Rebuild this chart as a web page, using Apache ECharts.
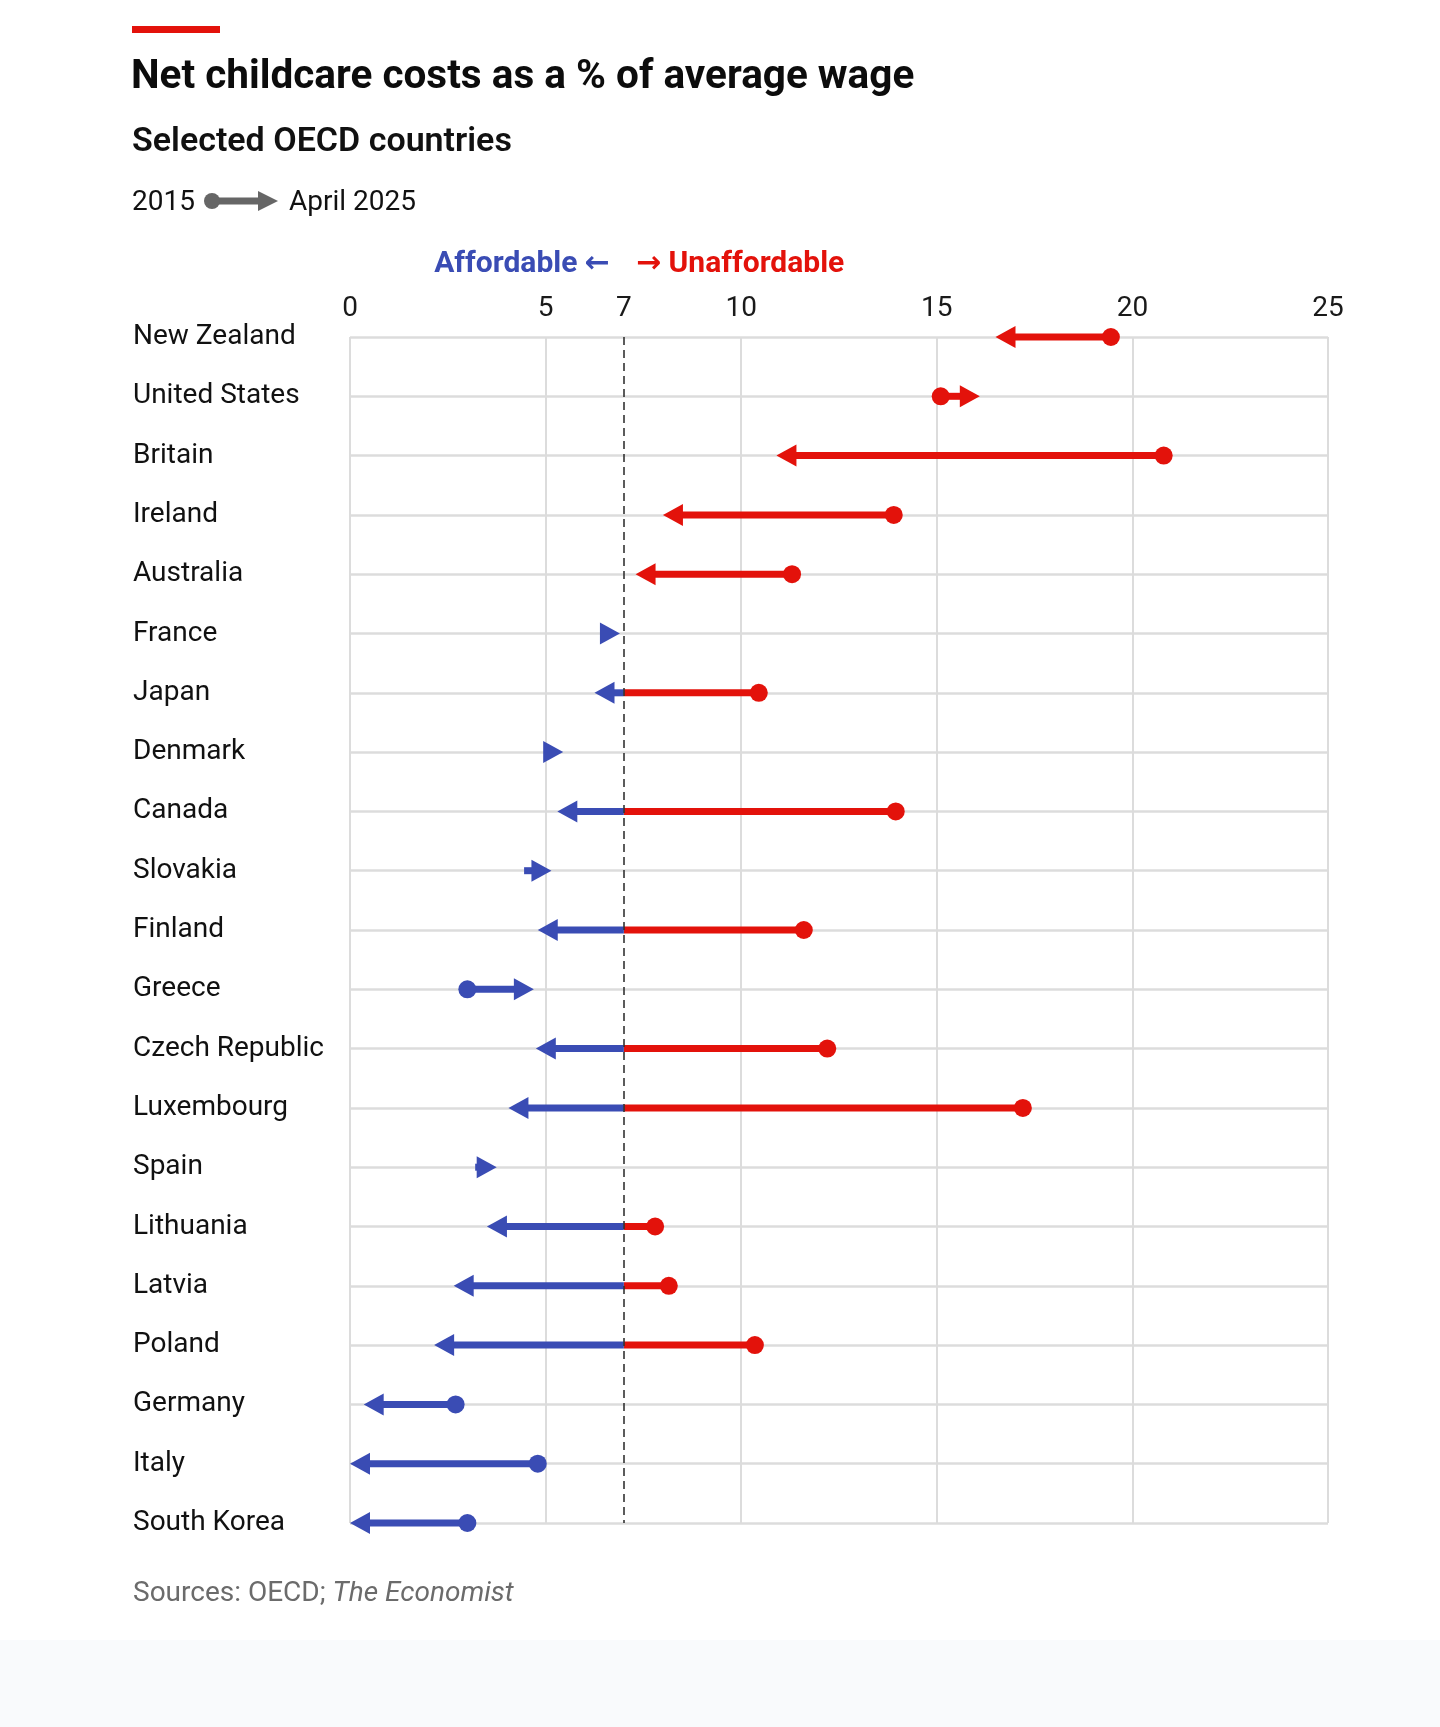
<!DOCTYPE html>
<html>
<head>
<meta charset="utf-8">
<title>Net childcare costs as a % of average wage</title>
<script src="https://cdn.jsdelivr.net/npm/echarts@6/dist/echarts.min.js"></script>
<style>
  html, body { margin: 0; padding: 0; background: #fff; }
  #chart { width: 1440px; height: 1727px; }
</style>
</head>
<body>
<div id="chart"></div>
<script>
// data (% of average wage)
const countries = [
  'New Zealand', 'United States', 'Britain', 'Ireland', 'Australia', 'France',
  'Japan', 'Denmark', 'Canada', 'Slovakia', 'Finland', 'Greece', 'Czech Republic',
  'Luxembourg', 'Spain', 'Lithuania', 'Latvia', 'Poland', 'Germany', 'Italy', 'South Korea'
];
const cost2015 = [19.45, 15.1, 20.8, 13.9, 11.3, 6.5, 10.45, 5.0, 13.95, 4.45, 11.6, 3.0, 12.2, 17.2, 3.2, 7.8, 8.15, 10.35, 2.7, 4.8, 3.0];
const cost2025 = [16.5, 16.1, 10.9, 8.0, 7.3, 6.9, 6.25, 5.45, 5.3, 5.15, 4.8, 4.7, 4.75, 4.05, 3.75, 3.5, 2.65, 2.15, 0.35, 0.0, 0.0];
const xTicks = [0, 5, 7, 10, 15, 20, 25];
const threshold = 7;

const RED = '#e3120b';
const BLUE = '#3a4cb4';
const FONT = 'Roboto';
const HEAD_LEN = 20;
const HEAD_HALF = 11;
const LINE_W = 7;
const DOT_R = 9;

const colorFor = v => (v > threshold ? RED : BLUE);

const rows = countries.map((c, i) => [i, cost2015[i], cost2025[i]]);

function renderArrow(params, api) {
  const i = api.value(0);
  const v15 = api.value(1);
  const v25 = api.value(2);
  const a = api.coord([v15, i]);
  const b = api.coord([v25, i]);
  const m = api.coord([threshold, i]);
  const dir = b[0] >= a[0] ? 1 : -1;
  const dist = Math.abs(b[0] - a[0]);
  const baseX = b[0] - dir * HEAD_LEN;
  const y = a[1];
  const children = [];

  const seg = (x1, x2, color) => children.push({
    type: 'line',
    shape: { x1: x1, y1: y, x2: x2, y2: y },
    style: { stroke: color, lineWidth: LINE_W }
  });

  if (dist > HEAD_LEN) {
    const lineEnd = baseX + dir * 2;
    const crosses = (v15 - threshold) * (v25 - threshold) < 0;
    if (crosses) {
      seg(a[0], m[0], colorFor(v15));
      seg(m[0], lineEnd, colorFor(v25));
    } else {
      seg(a[0], lineEnd, colorFor(v25));
    }
  }
  // tiny changes: the 2015 dot disappears under the arrowhead
  if (dist >= 32) {
    children.push({
      type: 'circle',
      shape: { cx: a[0], cy: y, r: DOT_R },
      style: { fill: colorFor(v15) }
    });
  }
  children.push({
    type: 'polygon',
    shape: { points: [[b[0], y], [baseX, y - HEAD_HALF], [baseX, y + HEAD_HALF]] },
    style: { fill: colorFor(v25) }
  });
  return { type: 'group', children: children };
}

const chart = echarts.init(document.getElementById('chart'), null, { renderer: 'canvas' });

const txt = (x, y, style) => ({
  type: 'text', x: x, y: y,
  style: Object.assign({ verticalAlign: 'middle', align: 'left' }, style)
});

const option = {
  backgroundColor: '#ffffff',
  animation: false,
  textStyle: { fontFamily: FONT },
  grid: { left: 350, right: 112, top: 337, bottom: 204 },
  xAxis: {
    type: 'value',
    position: 'top',
    min: 0,
    max: 25,
    interval: 5,
    axisLine: { show: false },
    axisTick: { show: false },
    axisLabel: {
      customValues: xTicks,
      fontSize: 28,
      color: '#1a1a1a',
      fontFamily: FONT,
      margin: 14
    },
    splitLine: { show: true, lineStyle: { color: '#dcdcdc', width: 2 } }
  },
  yAxis: {
    type: 'category',
    data: countries,
    inverse: true,
    boundaryGap: false,
    axisLine: { show: false },
    axisTick: { show: false },
    axisLabel: {
      align: 'left',
      margin: 217,
      fontSize: 28,
      padding: [9, 0, 0, 0],
      color: '#111',
      fontFamily: FONT
    },
    splitLine: { show: true, lineStyle: { color: '#dcdcdc', width: 2.5 } }
  },
  series: [
    {
      type: 'custom',
      name: 'change',
      renderItem: renderArrow,
      data: rows,
      encode: { x: [1, 2], y: 0 },
      z: 3
    },
    {
      type: 'line',
      name: 'threshold',
      data: [],
      z: 5,
      markLine: {
        silent: true,
        symbol: 'none',
        label: { show: false },
        lineStyle: { color: '#333', width: 1.6, type: [8, 5] },
        data: [{ xAxis: threshold }]
      }
    }
  ],
  graphic: [
    { type: 'rect', left: 0, top: 1640, shape: { width: 1440, height: 87 }, style: { fill: '#f9fafc' }, silent: true },
    { type: 'rect', left: 132, top: 26, shape: { width: 88, height: 7 }, style: { fill: RED } },
    txt(131, 78, { text: 'Net childcare costs as a % of average wage', font: 'bold 40.5px ' + FONT, fill: '#0c0c0c' }),
    txt(132, 142, { text: 'Selected OECD countries', font: '600 34px ' + FONT, fill: '#111' }),
    txt(132, 203, { text: '2015', font: '28px ' + FONT, fill: '#111' }),
    {
      type: 'group', x: 204, y: 201,
      children: [
        { type: 'line', shape: { x1: 8, y1: 0, x2: 58, y2: 0 }, style: { stroke: '#666', lineWidth: 7 } },
        { type: 'circle', shape: { cx: 8, cy: 0, r: 8 }, style: { fill: '#666' } },
        { type: 'polygon', shape: { points: [[74, 0], [54, -10], [54, 10]] }, style: { fill: '#666' } }
      ]
    },
    txt(289, 203, { text: 'April 2025', font: '28px ' + FONT, fill: '#111' }),
    txt(610, 264, {
      align: 'right',
      text: '{t|Affordable }{ar|\u2190}',
      rich: {
        t: { font: 'bold 30px ' + FONT, fill: BLUE },
        ar: { font: 'bold 30px "DejaVu Sans"', fill: BLUE }
      }
    }),
    txt(636, 264, {
      text: '{ar|\u2192}{t| Unaffordable}',
      rich: {
        t: { font: 'bold 30px ' + FONT, fill: RED },
        ar: { font: 'bold 30px "DejaVu Sans"', fill: RED }
      }
    }),
    txt(133, 1594, {
      text: '{a|Sources: OECD; }{b|The Economist}',
      rich: {
        a: { font: '28px ' + FONT, fill: '#6b6b6b' },
        b: { font: 'italic 28px ' + FONT, fill: '#6b6b6b' }
      }
    })
  ]
};

chart.setOption(option);
</script>
</body>
</html>
